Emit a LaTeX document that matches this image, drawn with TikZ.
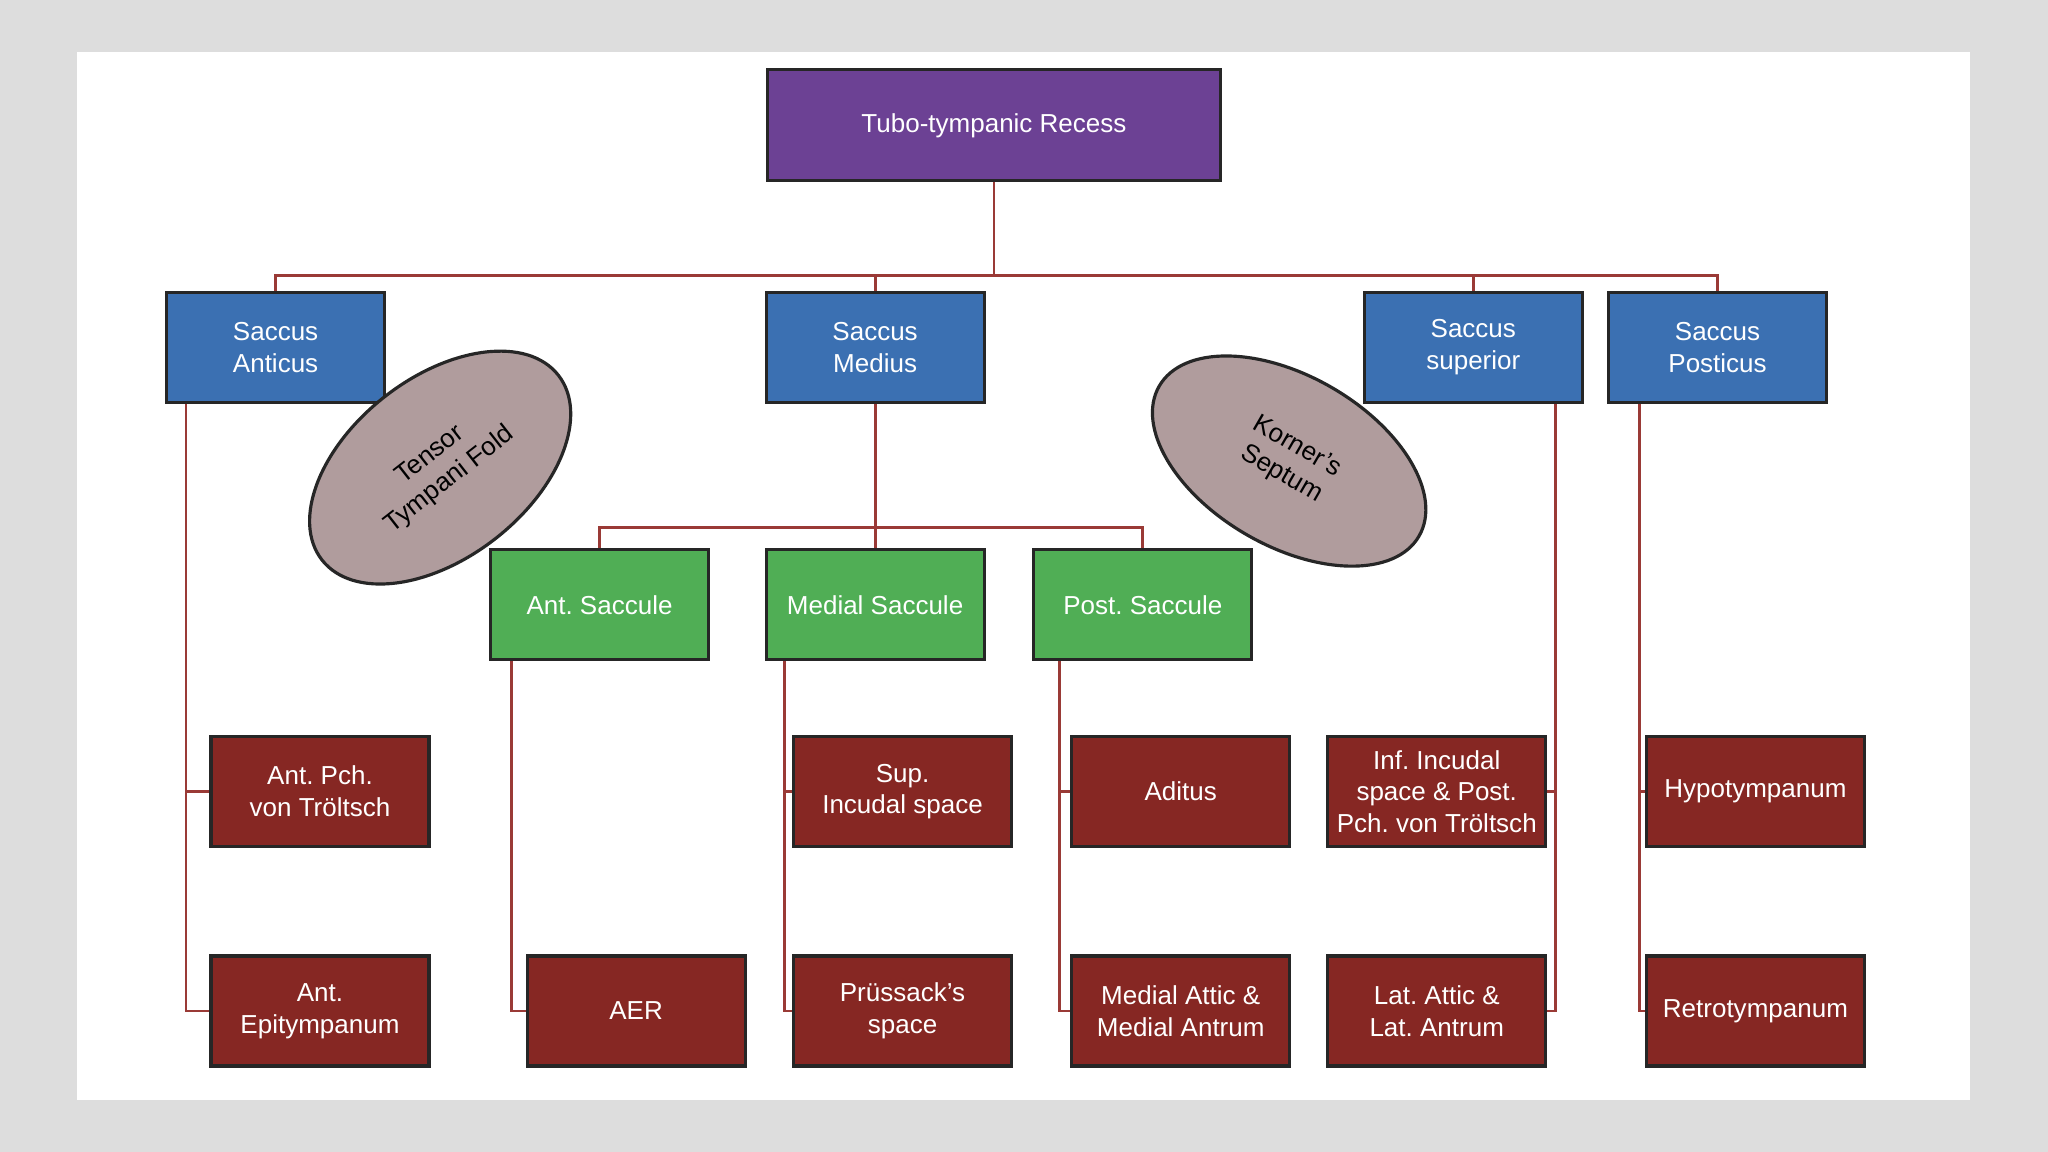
\documentclass[tikz,border=0pt]{standalone}
\usepackage{fontspec}
\setmainfont{Liberation Sans}
\usetikzlibrary{calc,shapes.geometric}
\definecolor{bgray}{HTML}{DDDDDD}
\definecolor{cpurple}{HTML}{6C4194}
\definecolor{cblue}{HTML}{3B70B2}
\definecolor{cgreen}{HTML}{50AE55}
\definecolor{cred}{HTML}{862723}
\definecolor{cfold}{HTML}{B09C9D}
\definecolor{cline}{HTML}{9A3A36}
\frenchspacing
\tikzset{
  box/.style={draw=black!85, line width=0.9pt, text=white, align=center,
    minimum width=2.18cm, minimum height=1.10cm, inner sep=1pt,
    font=\fontsize{7.4}{9}\selectfont},
  top/.style={box, fill=cpurple, minimum width=4.53cm, minimum height=1.11cm},
  saccus/.style={box, fill=cblue},
  saccule/.style={box, fill=cgreen},
  space/.style={box, fill=cred},
  fold/.style={draw=black!85, line width=0.9pt, fill=cfold, ellipse,
    minimum width=3.0cm, minimum height=1.8cm, inner sep=0pt, align=center,
    font=\fontsize{7.4}{9}\selectfont},
  link/.style={draw=cline, line width=0.8pt}
}
\begin{document}
\begin{tikzpicture}[x=0.01306cm,y=-0.01306cm]
  \fill[bgray] (0,0) rectangle (1568,882);
  \fill[white] (59,40) rectangle (1508,842);
  \useasboundingbox (0,0) rectangle (1568,882);

  % top level
  \node[top] (recess) at (761,96) {Tubo-tympanic Recess};

  % saccus
  \node[saccus] (anticus) at (211,266) {Saccus\\Anticus};
  \node[saccus] (medius) at (670,266) {Saccus\\Medius};
  \node[saccus] (superior) at (1128,266) {Saccus\\superior};
  \node[saccus] (posticus) at (1315,266) {Saccus\\Posticus};

  % saccules
  \node[saccule] (antsac) at (459,463) {Ant. Saccule};
  \node[saccule] (medsac) at (670,463) {Medial Saccule};
  \node[saccule] (postsac) at (875,463) {Post. Saccule};

  % spaces
  \node[space] (antpch) at (245,606) {Ant. Pch.\\von Tröltsch};
  \node[space] (antepi) at (245,774) {Ant.\\Epitympanum};
  \node[space] (aer) at (487,774) {AER};
  \node[space] (supinc) at (691,606) {Sup.\\Incudal space};
  \node[space] (pruss) at (691,774) {Prüssack’s\\space};
  \node[space] (aditus) at (904,606) {Aditus};
  \node[space] (medatt) at (904,774) {Medial Attic \&\\Medial Antrum};
  \node[space] (infinc) at (1100,606) {Inf. Incudal\\space \& Post.\\Pch. von Tröltsch};
  \node[space] (latatt) at (1100,774) {Lat. Attic \&\\Lat. Antrum};
  \node[space] (hypo) at (1344,606) {Hypotympanum};
  \node[space] (retro) at (1344,774) {Retrotympanum};

  % connectors
  \coordinate (hub) at (761,211);
  \coordinate (mhub) at (670,404);
  \draw[link] (recess.south) -- (hub);
  \draw[link] (anticus.north) |- (hub) -| (posticus.north);
  \draw[link] (medius.north) -- (medius.north |- hub);
  \draw[link] (superior.north) -- (superior.north |- hub);
  \draw[link] (medius.south) -- (mhub);
  \draw[link] (antsac.north) |- (mhub) -| (postsac.north);
  \draw[link] (medsac.north) -- (mhub);

  \draw[link] ($(anticus.south west)+(16,0)$) |- (antepi.west);
  \draw[link] ($(anticus.south west)+(16,0)$) |- (antpch.west);
  \draw[link] ($(antsac.south west)+(17,0)$) |- (aer.west);
  \draw[link] ($(medsac.south west)+(15,0)$) |- (pruss.west);
  \draw[link] ($(medsac.south west)+(15,0)$) |- (supinc.west);
  \draw[link] ($(postsac.south west)+(21,0)$) |- (medatt.west);
  \draw[link] ($(postsac.south west)+(21,0)$) |- (aditus.west);
  \draw[link] ($(superior.south east)+(-22,0)$) |- (latatt.east);
  \draw[link] ($(superior.south east)+(-22,0)$) |- (infinc.east);
  \draw[link] ($(posticus.south west)+(25,0)$) |- (retro.west);
  \draw[link] ($(posticus.south west)+(25,0)$) |- (hypo.west);

  % folds
  \node[fold, rotate=38] (tensor) at (337,358) {Tensor\\Tympani Fold};
  \node[fold, rotate=-30, minimum height=1.7cm] (korner) at (987,353) {Korner’s\\Septum};
\end{tikzpicture}
\end{document}
